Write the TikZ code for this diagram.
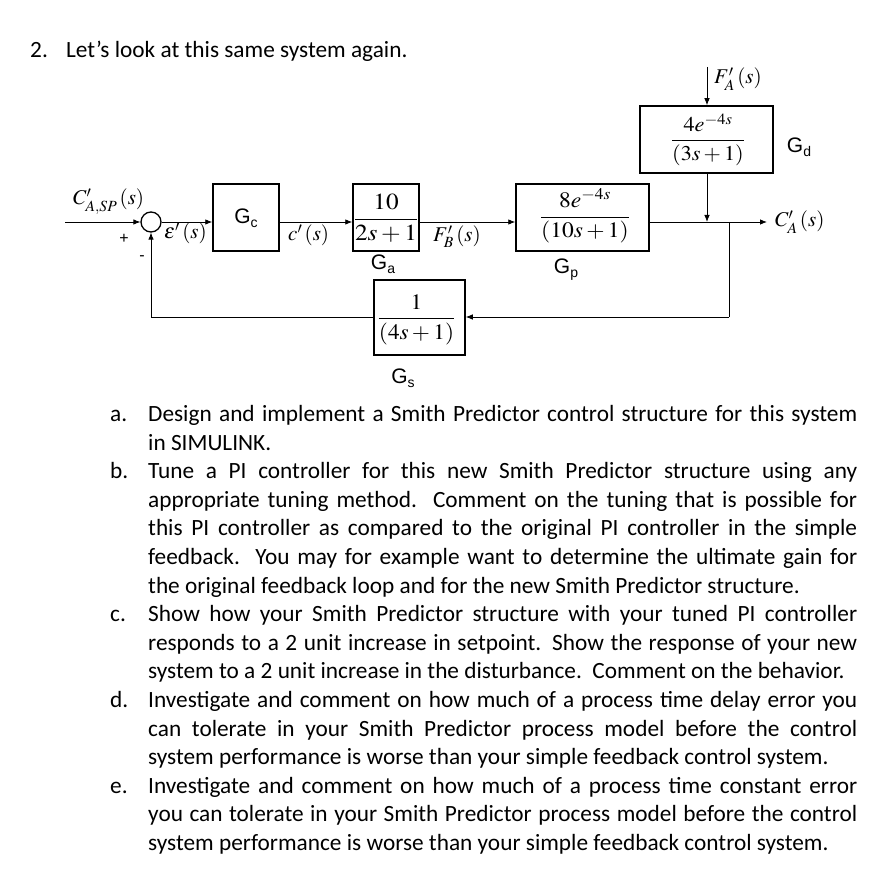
\documentclass[tikz,border=0pt]{standalone}
\usepackage{amsmath}
\usepackage{graphicx}
\usepackage{mathptmx}
\usepackage[no-math]{fontspec}
\setmainfont{Carlito}
\newfontfamily\arial{Liberation Sans}
\usetikzlibrary{arrows.meta}
\newcommand\gsub[2]{{\arial\fontsize{21}{21}\selectfont #1\raisebox{-0.35ex}{\fontsize{14}{14}\selectfont #2}}}
\begin{document}
\begin{tikzpicture}[x=1pt,y=-1pt,
  blk/.style={draw, line width=1.5pt, inner sep=0pt},
  wire/.style={line width=0.8pt},
  conn/.style={line width=0.8pt, -{Latex[length=7pt,width=5.5pt]}},
  lbl/.style={inner sep=0pt, anchor=base west, font=\fontsize{21}{21}\selectfont},
  frc/.style={inner sep=0pt, anchor=base, font=\fontsize{22}{22}\selectfont},
  txt/.style={inner sep=0pt, anchor=base west, font=\fontsize{23.3}{28.6}\selectfont}]
\useasboundingbox (0,0) rectangle (893,874);
% title
\node[txt] (n2) at (30,57.5) {2.};
\node[txt] (t0) at (66,57.5) {Let’s look at this same system again.};
% blocks
\node[draw, circle, line width=1.3pt, minimum size=20pt, inner sep=0pt] (sum) at (151,222) {};
\node[blk, minimum width=66pt, minimum height=67pt] (Gc) at (246,217.5) {};
\node (Gct) at (246,218) {\gsub{G}{c}};
\node[blk, minimum width=66pt, minimum height=67pt] (Ga) at (386,217.5) {};
\node[frc, font=\fontsize{23}{23}\selectfont] (Gaf) at (386,225) {\scalebox{1.1}[1]{$\dfrac{10}{2s+1}$}};
\node[blk, minimum width=133pt, minimum height=67pt] (Gp) at (582.5,217.5) {};
\node[frc] (Gpf) at (585,222.5) {\scalebox{1.07}[1]{$\dfrac{8e^{-4s}}{(10s+1)}$}};
\node[blk, minimum width=133pt, minimum height=67pt] (Gd) at (706.5,139.5) {};
\node[frc, font=\fontsize{21}{21}\selectfont] (Gdf) at (708,146) {\scalebox{1.06}[1]{$\dfrac{4e^{-4s}}{(3s+1)}$}};
\node[blk, minimum width=91pt, minimum height=75pt] (Gs) at (419.5,317.5) {};
\node[frc] (Gsf) at (416.5,324.2) {\scalebox{1.06}[1]{$\dfrac{1}{(4s+1)}$}};
% block names
\node (Gal) at (383,264) {\gsub{G}{a}};
\node (Gpl) at (566,270) {\gsub{G}{p}};
\node (Gdl) at (799,147) {\gsub{G}{d}};
\node (Gsl) at (403,378) {\gsub{G}{s}};
% signal labels
\node[lbl] (Csp) at (73,205) {$C'_{A,SP}\,(s)$};
\node[inner sep=0pt] (plus) at (124,239) {\arial\fontsize{16}{16}\selectfont +};
\node[inner sep=0pt] (minus) at (142,258) {\arial\fontsize{16}{16}\selectfont -};
\node[lbl] (eps) at (164,239) {$\varepsilon'\,(s)$};
\node[lbl] (cs) at (288,241) {$c'\,(s)$};
\node[lbl] (FB) at (433,242) {$F'_B\,(s)$};
\node[lbl] (FA) at (714,84) {$F'_A\,(s)$};
\node[lbl] (CA) at (775,227) {$C'_A\,(s)$};
% coordinates
\coordinate (in) at (65,222);
\coordinate (FAtop) at (707,67);
\coordinate (out) at (767,222);
\coordinate (jd) at (707,222);
\coordinate (br) at (729,222);
\coordinate (brd) at (729,317);
\coordinate (fbl) at (151,317);
% connectors
\draw[conn] (in) -- (sum.west);
\draw[conn] (sum.east) -- (Gc.west |- sum.east);
\draw[conn] (Gc.east |- sum.east) -- (Ga.west |- sum.east);
\draw[conn] (Ga.east |- sum.east) -- (Gp.west |- sum.east);
\draw[conn] (Gp.east |- sum.east) -- (out);
\draw[conn] (FAtop) -- (Gd.north -| FAtop);
\draw[conn] (Gd.south -| jd) -- (jd);
\draw[wire] (br) -- (brd);
\draw[conn] (brd) -- (Gs.east |- brd);
\draw[wire] (Gs.west |- brd) -- (fbl);
\draw[conn] (fbl) -- (sum.south);
% text
\node[txt] (la) at (110,421.5) {a.};
\node[txt] (l1) at (148,421.5) {\makebox[709pt][s]{Design and implement a Smith Predictor control structure for this system}};
\node[txt] (l2) at (148,450.1) {in SIMULINK.};
\node[txt] (lb) at (110,478.7) {b.};
\node[txt] (l3) at (148,478.7) {\makebox[709pt][s]{Tune a PI controller for this new Smith Predictor structure using any}};
\node[txt] (l4) at (148,507.3) {\makebox[709pt][s]{appropriate tuning method.\ \ Comment on the tuning that is possible for}};
\node[txt] (l5) at (148,535.9) {\makebox[709pt][s]{this PI controller as compared to the original PI controller in the simple}};
\node[txt] (l6) at (148,564.5) {\makebox[709pt][s]{feedback.\ \ You may for example want to determine the ultimate gain for}};
\node[txt] (l7) at (148,593.1) {the original feedback loop and for the new Smith Predictor structure.};
\node[txt] (lc) at (110,621.7) {c.};
\node[txt] (l8) at (148,621.7) {\makebox[709pt][s]{Show how your Smith Predictor structure with your tuned PI controller}};
\node[txt] (l9) at (148,650.3) {\makebox[709pt][s]{responds to a 2 unit increase in setpoint. Show the response of your new}};
\node[txt] (l10) at (148,678.9) {system to a 2 unit increase in the disturbance.\ \ Comment on the behavior.};
\node[txt] (ld) at (110,707.5) {d.};
\node[txt] (l11) at (148,707.5) {\makebox[709pt][s]{Investigate and comment on how much of a process time delay error you}};
\node[txt] (l12) at (148,736.1) {\makebox[709pt][s]{can tolerate in your Smith Predictor process model before the control}};
\node[txt] (l13) at (148,764.7) {system performance is worse than your simple feedback control system.};
\node[txt] (le) at (110,793.3) {e.};
\node[txt] (l14) at (148,793.3) {\makebox[709pt][s]{Investigate and comment on how much of a process time constant error}};
\node[txt] (l15) at (148,821.9) {\makebox[709pt][s]{you can tolerate in your Smith Predictor process model before the control}};
\node[txt] (l16) at (148,850.5) {system performance is worse than your simple feedback control system.};
\end{tikzpicture}
\end{document}
